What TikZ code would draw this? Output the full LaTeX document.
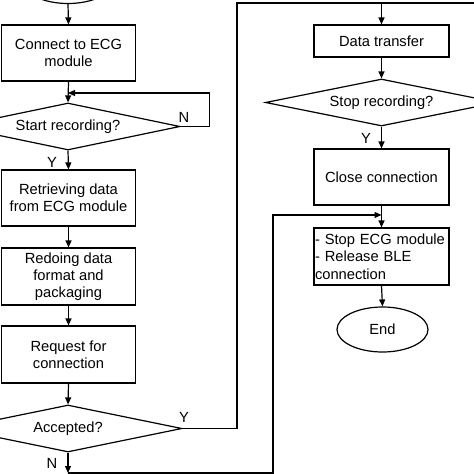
\documentclass[tikz,border=0pt]{standalone}
\usepackage{fontspec}
\setmainfont{Liberation Sans}
\usetikzlibrary{shapes.geometric,arrows.meta}
\begin{document}
\begin{tikzpicture}[x=1pt,y=-1pt,
  line width=1.2pt,
  every node/.style={font=\fontsize{14.7}{17}\selectfont},
  box/.style={draw,rectangle,minimum width=134pt,align=center,inner sep=0pt},
  dec/.style={draw,diamond,aspect=4.8,inner sep=0pt},
  term/.style={draw,ellipse,minimum width=91pt,minimum height=45pt,inner sep=0pt},
  arr/.style={-{Triangle[length=7pt,width=6pt]}},
  lbl/.style={inner sep=0pt}
]
\useasboundingbox (0,0) rectangle (474,474);
\clip (0,0) rectangle (474,474);
\node[term] (start) at (68,-19) {};
\node[box,minimum height=56pt] (b1) at (68.5,53) {Connect to ECG\\module};
\node[dec,minimum width=224pt,minimum height=47pt] (d1) at (68,126.5) {Start recording?};
\node[box,minimum height=56pt] (b2) at (68.5,198) {Retrieving data\\from ECG module};
\node[box,minimum height=57pt] (b3) at (68.5,276.5) {Redoing data\\format and\\packaging};
\node[box,minimum height=57pt] (b4) at (68.5,354.5) {Request for\\connection};
\node[dec,minimum width=228pt,minimum height=47pt] (d2) at (68,428.5) {Accepted?};
\node[box,minimum width=135pt,minimum height=32pt] (r1) at (381.5,41) {Data transfer};
\node[dec,minimum width=232pt,minimum height=47pt] (d3) at (381.5,102.5) {Stop recording?};
\node[box,minimum width=135pt,minimum height=56pt] (r2) at (381.5,177) {Close connection};
\node[draw,rectangle,minimum width=135pt,minimum height=57pt,text width=133pt,align=left,inner sep=1pt,font=\fontsize{14.7}{17.5}\selectfont] (r3) at (381.5,256.5) {- Stop ECG module\\- Release BLE\\connection};
\node[term] (end) at (382.5,329.5) {End};

\node[lbl] (n1) at (184,117) {N};
\node[lbl] (y1) at (52,162) {Y};
\node[lbl] (y2) at (184,417) {Y};
\node[lbl] (n2) at (52,463) {N};
\node[lbl] (y3) at (366,138) {Y};

\coordinate (j1) at (68,93);
\coordinate (top) at (381.5,3);
\coordinate (j2) at (381.5,215);
\coordinate (bot) at (68,473);

\draw[arr] (start.south) -- (b1.north);
\draw[arr] (b1.south) -- (d1.north);
\draw[arr] (d1.east) -- ++(29,0) |- (j1);
\draw[arr] (d1.south) -- (b2.north);
\draw[arr] (b2.south) -- (b3.north);
\draw[arr] (b3.south) -- (b4.north);
\draw[arr] (b4.south) -- (d2.north);
\draw (d2.east) -| (237,3) -- (top);
\draw (d3.east) -- ++(10,0) |- (top);
\draw[arr] (top) -- (r1.north);
\draw[arr] (r1.south) -- (d3.north);
\draw[arr] (d3.south) -- (r2.north);
\draw[arr] (r2.south) -- (r3.north);
\draw[arr] (d2.south) -- (bot);
\draw[arr] (bot) -| (273,215) -- (j2);
\draw[arr] (r3.south) -- (end.north);
\end{tikzpicture}
\end{document}
